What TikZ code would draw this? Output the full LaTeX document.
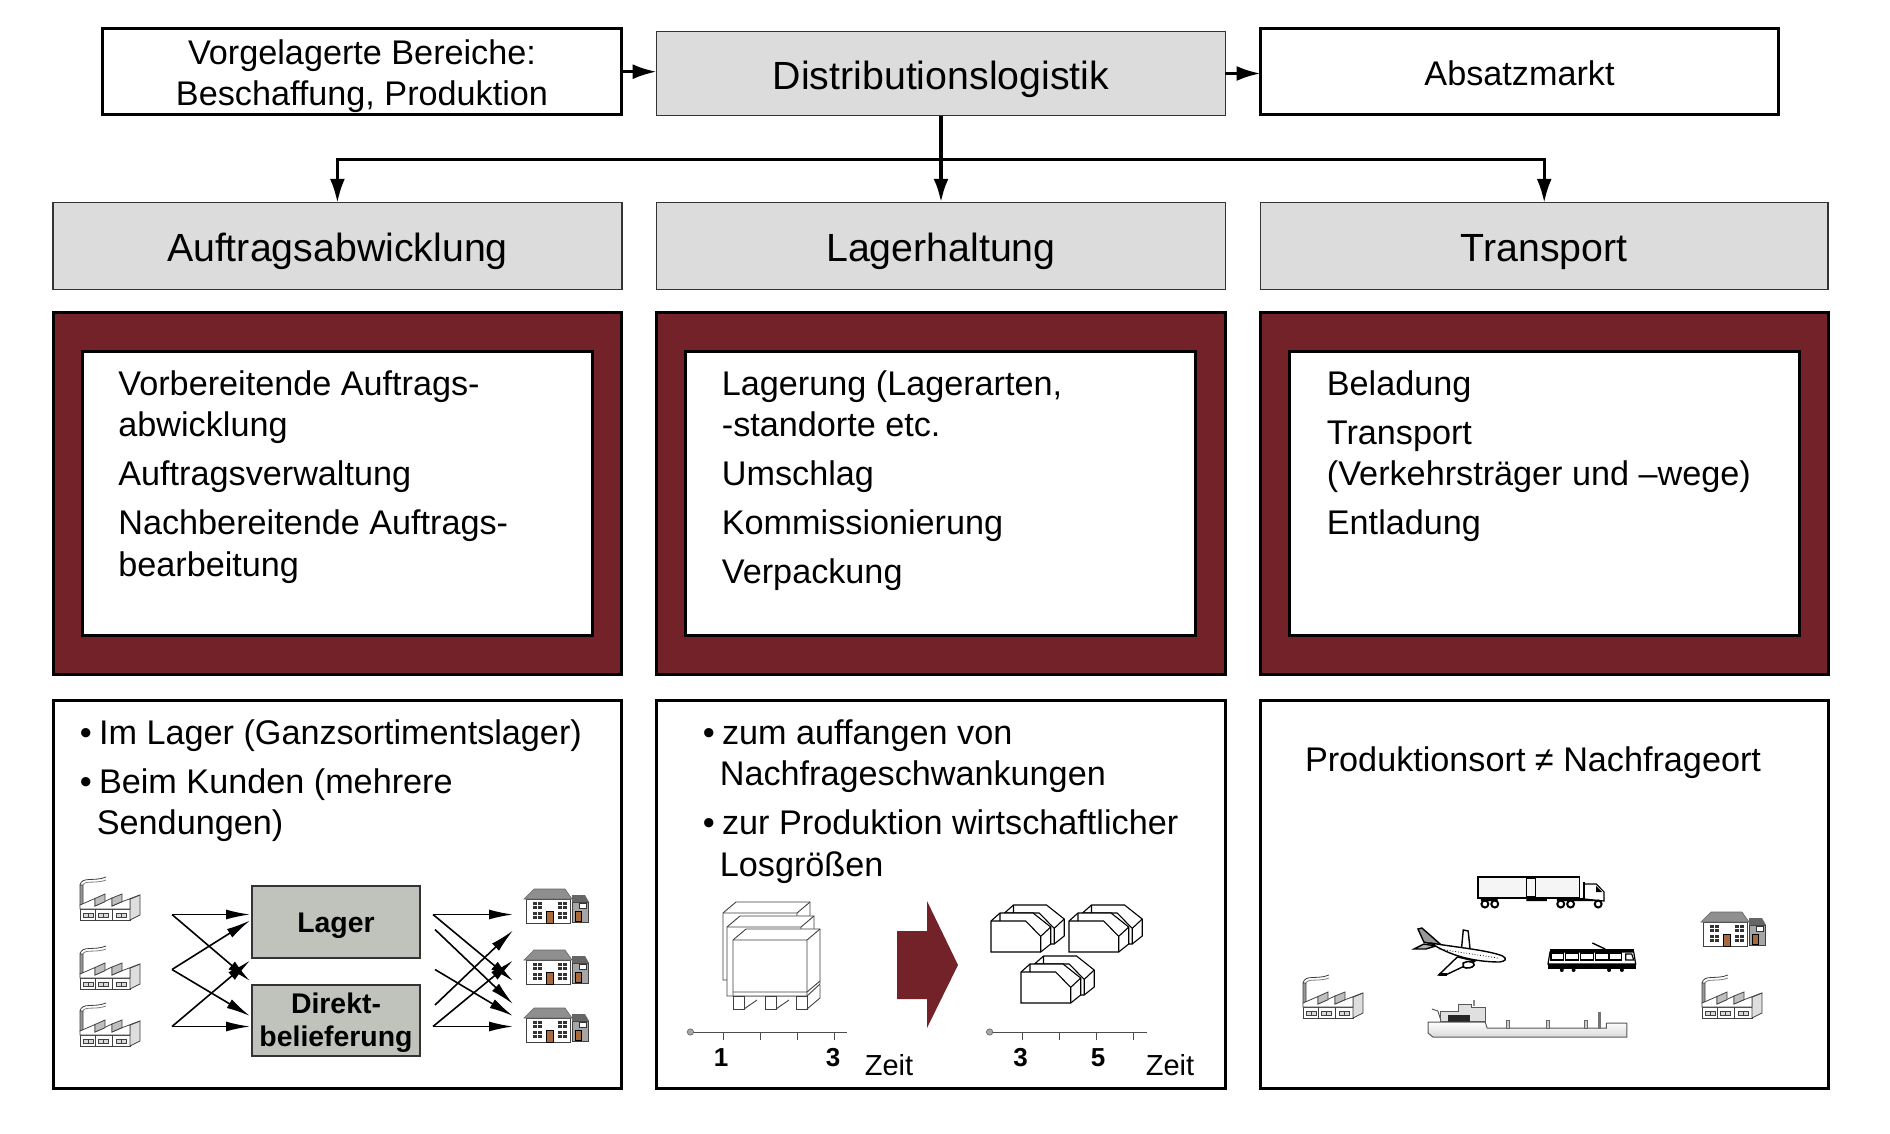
\documentclass[tikz,border=0pt]{standalone}
\usepackage{fontspec}
\setmainfont{Liberation Sans}
\usetikzlibrary{arrows.meta}
\definecolor{darkred}{HTML}{722228}
\definecolor{lightgray}{HTML}{DCDCDC}
\definecolor{stonegray}{HTML}{C0C2BC}
\definecolor{roofgray}{HTML}{8F8F8F}
\definecolor{doorbrown}{HTML}{A86A3A}
\tikzstyle{boxwhite}=[rectangle, draw=black, line width=1.5pt, fill=white, inner sep=0pt, outer sep=0pt, align=center, font=\fontsize{17.1}{20.6}\selectfont]
\tikzstyle{boxgray}=[rectangle, draw=black!80, line width=.7pt, fill=lightgray, inner sep=0pt, outer sep=0pt, text height=19.2pt, text depth=3.6pt, font=\fontsize{19.65}{23}\selectfont]
\tikzstyle{boxred}=[rectangle, draw=black, line width=1.5pt, fill=darkred, inner sep=0pt, outer sep=0pt]
\tikzstyle{boxstone}=[rectangle, draw=black!80, line width=1pt, fill=stonegray, inner sep=0pt, outer sep=0pt, align=center, font=\fontsize{14.2}{16.3}\selectfont\bfseries]
\tikzstyle{listtext}=[anchor=north west, inner sep=0pt, align=left, font=\fontsize{17.1}{20.6}\selectfont]
\tikzstyle{ticklabel}=[inner sep=0pt, font=\fontsize{13}{14}\selectfont\bfseries]
\tikzstyle{zeitlabel}=[inner sep=0pt, font=\fontsize{14.5}{15}\selectfont]
\tikzstyle{arrow}=[draw=black, line width=1.5pt, >={Latex[length=12pt,width=7.5pt]}]
\tikzstyle{smallarrow}=[draw=black, line width=.8pt, >={Latex[length=12pt,width=5pt]}]
\tikzstyle{icon}=[draw=black!75, line width=.4pt]
\tikzstyle{crate}=[draw=black!75, line width=.45pt]
\tikzset{
  factory/.pic={
    \draw[icon, fill=white] (0,34) rectangle (50,45);
    \draw[icon, fill=black!13] (50,45) -- (60,40) -- (60,20) -- (50,24) -- (50,34) -- cycle;
    \draw[icon, fill=black!40] (0,30) -- (0,10) -- (3,10) -- (3,29) -- cycle;
    \draw[icon, fill=white] (0,34) -- (0,30) -- (15,23.5) -- (15,31) -- (32,23) -- (32,31) -- (42,26.7) -- (60,20) -- (50,24) -- (50,34) -- cycle;
    \draw[icon, fill=black!25] (15,23.5) -- (25,19) -- (25,26.7) -- (15,31) -- cycle;
    \draw[icon, fill=black!25] (32,23) -- (42,19) -- (42,26.7) -- (32,31) -- cycle;
    \draw[icon] (15,34) -- (15,45) (32,34) -- (32,45);
    \foreach \wx in {3,18,36} {
      \draw[icon, fill=black!15] (\wx,38) rectangle ++(10,4);
      \draw[icon] (\wx+5,38) -- (\wx+5,42);
    }
    \draw[icon] (0,10) .. controls (2,1) and (14,7) .. (26,2);
    \draw[icon, black!50] (3,10) .. controls (5,5) and (16,9) .. (26,5);
  },
  house/.pic={
    \draw[icon, fill=white] (2,11) rectangle (46,35);
    \fill[roofgray, draw=black!60, line width=.3pt] (0,11) -- (10,1) -- (41,1) -- (48,11) -- cycle;
    \draw[icon, fill=black!35] (48,14) rectangle (64,34);
    \fill[black!60] (48,7) -- (61,7) -- (65,14) -- (48,14) -- cycle;
    \draw[draw=black, fill=doorbrown, line width=.4pt] (22,23) rectangle (29,35);
    \draw[draw=black, fill=doorbrown, line width=.4pt] (51,23) rectangle (57,33);
    \foreach \wx in {9,14,34,39}
      \foreach \wy in {14,18,24,28}
        \fill[black!80] (\wx,\wy) rectangle ++(3.5,3);
    \draw[black!80, fill=white, line width=.4pt] (55,15) rectangle (62,20);
  },
  cutbox/.pic={
    \foreach \ox/\oy in {13.5/-8,0/0} {
      \begin{scope}[shift={(\ox,\oy)}]
        \draw[line width=.55pt, fill=white] (0,18) -- (9,10) -- (42,10) -- (59.7,24) -- (59.7,41) -- (49.7,49) -- (0,49) -- cycle;
        \draw[line width=.55pt] (0,18) -- (34.7,18) -- (49.7,33.4) -- (49.7,49) (49.7,33.4) -- (59.7,24) (9,10) -- (9,18);
      \end{scope}
    }
  },
  timeline/.pic={
    \draw[draw=black!70, line width=.4pt] (0,0) -- (157,0);
    \foreach \tx in {33,70,107,144}
      \draw[draw=black!70, line width=.4pt] (\tx,0) -- (\tx,8);
    \draw[draw=black!60, fill=black!35, line width=.3pt] (0,0) circle (3.2);
  }
}
\begin{document}
\begin{tikzpicture}[x=0.5pt, y=-0.5pt]
  \useasboundingbox (0,0) rectangle (1890,1134);
  \begin{scope}
    % obere Reihe
    \node (vor) at (362,71.7) [boxwhite, minimum width=259.7pt, minimum height=42.8pt] {\rule{0pt}{17.2pt}Vorgelagerte Bereiche:\\Beschaffung, Produktion};
    \node (dist) at (941,73.5) [boxgray, minimum width=284.4pt, minimum height=42.2pt] {Distributionslogistik};
    \node (markt) at (1519.5,71.7) [boxwhite, minimum width=259pt, minimum height=42.8pt, text height=13.5pt] {Absatzmarkt};

    \node (auftrag) at (337.4,246.2) [boxgray, minimum width=284.4pt, minimum height=43.4pt] {Auftragsabwicklung};
    \node (lager) at (941,246.2) [boxgray, minimum width=284.4pt, minimum height=43.4pt] {Lagerhaltung};
    \node (trans) at (1544.2,246.2) [boxgray, minimum width=283.8pt, minimum height=43.4pt] {Transport};
    \coordinate (fork) at (941,160);

    % rote Rahmen
    \node (red1) at (337.4,493.8) [boxred, minimum width=284.4pt, minimum height=181pt] {};
    \node (red2) at (941,493.8) [boxred, minimum width=284.4pt, minimum height=181pt] {};
    \node (red3) at (1544.2,493.8) [boxred, minimum width=283.8pt, minimum height=181pt] {};
    \node (in1) at (337.4,493.4) [boxwhite, minimum width=255.4pt, minimum height=141.6pt] {};
    \node (in2) at (940.5,493.4) [boxwhite, minimum width=254.9pt, minimum height=141.6pt] {};
    \node (in3) at (1544.2,493.4) [boxwhite, minimum width=254.8pt, minimum height=141.6pt] {};

    \node (t1) at (118,370.5) [listtext] {Vorbereitende Auftrags-\\abwicklung\\[3.9pt]Auftragsverwaltung\\[3.9pt]Nachbereitende Auftrags-\\bearbeitung};
    \node (t2) at (721.5,370.5) [listtext] {Lagerung (Lagerarten,\\-standorte etc.\\[3.9pt]Umschlag\\[3.9pt]Kommissionierung\\[3.9pt]Verpackung};
    \node (t3) at (1326.5,370.5) [listtext] {Beladung\\[3.9pt]Transport\\(Verkehrsträger und –wege)\\[3.9pt]Entladung};

    % untere Reihe
    \node (low1) at (337.4,894) [boxwhite, minimum width=284.4pt, minimum height=194pt] {};
    \node (low2) at (941,894) [boxwhite, minimum width=284.4pt, minimum height=194pt] {};
    \node (low3) at (1544.2,894) [boxwhite, minimum width=283.8pt, minimum height=194pt] {};

    \node (b1) at (79.5,719.5) [listtext] {•\kern3.6pt Im Lager (Ganzsortimentslager)\\[3.9pt]•\kern3.6pt Beim Kunden (mehrere\\\hspace*{8.5pt}Sendungen)};
    \node (b2) at (702.5,719.5) [listtext] {•\kern3.6pt zum auffangen von\\\hspace*{8.5pt}Nachfrageschwankungen\\[3.9pt]•\kern3.6pt zur Produktion wirtschaftlicher\\\hspace*{8.5pt}Losgrößen};
    \node (b3) at (1533,763) [inner sep=0pt, font=\fontsize{17.1}{20.6}\selectfont] {Produktionsort ≠ Nachfrageort};

    \node (lag) at (336,922) [boxstone, minimum width=84.3pt, minimum height=36pt] {\rule{0pt}{13.4pt}Lager};
    \node (dir) at (336,1020) [boxstone, minimum width=84.3pt, minimum height=35.5pt] {\rule{0pt}{13.3pt}Direkt-\\belieferung};

    % linke Pfeilenden
    \coordinate (s1) at (172,914.5);
    \coordinate (s2) at (172,969.5);
    \coordinate (s3) at (172,1026.5);
    \coordinate (e1) at (250,914.5);
    \coordinate (e2) at (250,920.5);
    \coordinate (e3) at (250,981);
    \coordinate (e4) at (250,960.5);
    \coordinate (e5) at (250,1016);
    \coordinate (e6) at (250,1026.5);

    % rechte Pfeilenden
    \coordinate (r1) at (433,914.5);
    \coordinate (r2) at (435,929.5);
    \coordinate (r3) at (435,969.5);
    \coordinate (r4) at (435,1005);
    \coordinate (r5) at (433,1026.5);
    \coordinate (h1) at (513,914.5);
    \coordinate (h2) at (513,930.5);
    \coordinate (h3) at (513,960.5);
    \coordinate (h4) at (513,981);
    \coordinate (h5) at (513,1004);
    \coordinate (h6) at (513,1016);
    \coordinate (h7) at (513,1026.5);

    % Zeitachsen
    \node (n1) at (721,1058) [ticklabel] {1};
    \node (n2) at (833,1058) [ticklabel] {3};
    \node (z1) at (889,1065) [zeitlabel] {Zeit};
    \node (n3) at (1020.6,1058) [ticklabel] {3};
    \node (n4) at (1098,1058) [ticklabel] {5};
    \node (z2) at (1170,1065) [zeitlabel] {Zeit};
  \end{scope}

  \begin{scope}
    \draw [arrow, ->] (vor.east) -- (vor.east -| dist.west);
    \draw [arrow, ->] (dist.east) -- (dist.east -| markt.west);
    \draw [arrow, ->, line width=2pt] (dist) -- (lager);
    \draw [arrow, ->] (fork) -| (auftrag);
    \draw [arrow, ->] (fork) -| (trans);

    \draw [smallarrow, ->] (s1) -- (e1);
    \draw [smallarrow, ->] (s1) -- (e3);
    \draw [smallarrow, ->] (s2) -- (e2);
    \draw [smallarrow, ->] (s2) -- (e5);
    \draw [smallarrow, ->] (s3) -- (e4);
    \draw [smallarrow, ->] (s3) -- (e6);

    \draw [smallarrow, ->] (r1) -- (h1);
    \draw [smallarrow, ->] (r1) -- (h4);
    \draw [smallarrow, ->] (r2) -- (h5);
    \draw [smallarrow, ->] (r3) -- (h6);
    \draw [smallarrow, ->] (r4) -- (h2);
    \draw [smallarrow, ->] (r5) -- (h3);
    \draw [smallarrow, ->] (r5) -- (h7);
  \end{scope}

  % Symbole links
  \pic at (80,875) {factory};
  \pic at (80,944) {factory};
  \pic at (80,1001) {factory};
  \pic at (524,888) {house};
  \pic at (524,949) {house};
  \pic at (524,1007) {house};

  % Paletten
  \foreach \ox/\oy/\oh in {-10/-27/67,-6/-13/69,0/0/56} {
    \begin{scope}[shift={(733+\ox,940+\oy)}]
      \draw[crate, fill=white] (0,0) -- (13,-11) -- (87,-11) -- (87,\oh-12) -- (74,\oh) -- (0,\oh) -- cycle;
      \draw[crate] (0,0) -- (74,0) -- (74,\oh) (74,0) -- (87,-11);
    \end{scope}
  }
  \begin{scope}[shift={(733,940)}]
    \draw[crate] (0,52) -- (74,52) -- (87,41);
    \foreach \fx in {0,32,63}
      \draw[crate, fill=white] (\fx,56) rectangle ++(11,13);
    \draw[crate] (11,69) -- (24,60) (43,69) -- (56,60) (74,69) -- (87,58) -- (87,45);
  \end{scope}

  % grosser Pfeil
  \fill[darkred] (897,931) -- (927,931) -- (927,901) -- (958,965) -- (927,1028) -- (927,999) -- (897,999) -- cycle;

  \pic at (991,903) {cutbox};
  \pic at (1069,903) {cutbox};
  \pic at (1021,954) {cutbox};
  \pic at (690.4,1032) {timeline};
  \pic at (989.6,1032) {timeline};

  % Symbole rechts
  \pic at (1303,973) {factory};
  \pic at (1702,973) {factory};
  \pic at (1701,911) {house};

  % LKW
  \begin{scope}[shift={(1478,877)}, xscale=.985]
    \draw[black, line width=.6pt, fill=black!4] (0,0) rectangle (103,21);
    \draw[black, line width=.4pt] (49,1) rectangle (58,19);
    \fill[black] (3,21) rectangle (20,24) (49,21) rectangle (70,24) (80,21) rectangle (128,24);
    \draw[black, line width=.6pt, fill=white] (108,22) -- (108,7) -- (120,7) -- (128,15) -- (128,24) -- cycle;
    \draw[black, line width=.9pt] (108,5) -- (108,21);
    \fill[black] (120,9) -- (126,15) -- (120,15) -- cycle;
    \foreach \wx in {7,17,84,94,122}
      \draw[black, line width=1pt, fill=white] (\wx,27) circle (3.5);
  \end{scope}

  % Flugzeug
  \begin{scope}[shift={(1414,927)}, xscale=.985]
    \draw[black, line width=.7pt, fill=black!40] (8,1) -- (4,2) -- (10,15) -- (30,20) -- cycle;
    \draw[black, line width=.7pt, fill=black!30] (0,22) -- (10,17) -- (22,19) -- (12,22) -- cycle;
    \draw[black, line width=.7pt, fill=white] (48,24) -- (50,3) -- (55,4) -- (57,23) -- cycle;
    \draw[black, line width=.7pt, fill=white] (17,16) .. controls (40,20) and (75,23) .. (90,29) .. controls (95,32) and (93,34) .. (87,35) .. controls (60,35) and (35,28) .. cycle;
    \draw[black, line width=.7pt, fill=white] (25,48) -- (32,48) -- (62,34) -- (44,30) -- cycle;
    \draw[black, line width=.8pt, fill=white] (50,36) .. controls (55,33) and (62,35) .. (61,38) .. controls (60,41) and (53,42) .. (50,40) -- cycle;
    \fill[black] (25,46) rectangle (33,49);
    \draw[black, densely dotted, line width=.4pt] (25,22) -- (85,31);
  \end{scope}

  % Strassenbahn
  \begin{scope}[shift={(1548,942)}, xscale=.985]
    \draw[black, line width=.7pt] (45,1) -- (58,7);
    \fill[black] (2,7) rectangle (87,10);
    \draw[black, line width=.6pt, fill=white] (2,10) -- (87,10) -- (89,22) -- (0,22) -- cycle;
    \foreach \wx in {3,18,33,48,62}
      \draw[black, line width=.6pt, fill=white] (\wx,11) rectangle ++(13,7);
    \draw[black, line width=.6pt, fill=white] (79,12) -- (85,12) -- (87,18) -- (79,18) -- cycle;
    \fill[black] (0,22) rectangle (89,27);
    \foreach \wx in {14,26,62,75}
      \fill[black] (\wx,28) circle (2);
  \end{scope}

  % Schiff
  \begin{scope}[shift={(1428,1000)}, xscale=.985]
    \fill[black!45] (46,0) rectangle (47.5,6);
    \draw[draw=black!65, line width=.4pt, fill=black!12] (13,21) -- (13,11) -- (31,11) -- (31,4) -- (44,4) -- (44,7) -- (58,7) -- (58,21) -- cycle;
    \draw[draw=black!65, line width=.5pt] (4,9) -- (10,11) -- (13,20);
    \fill[black!85] (20,15) rectangle (43,22);
    \draw[draw=black!65, line width=.5pt, top color=white, bottom color=black!15] (0,22) -- (58,22) -- (60,28) -- (181,28) -- (181,23) -- (202,23) -- (202,37) -- (5,37) -- (0,33) -- cycle;
    \foreach \px in {80,120,159}
      \draw[draw=black!60, line width=.4pt, fill=black!20] (\px,20) rectangle ++(3,8);
    \fill[black!55] (173,12) rectangle (175.5,29);
  \end{scope}
\end{tikzpicture}
\end{document}
